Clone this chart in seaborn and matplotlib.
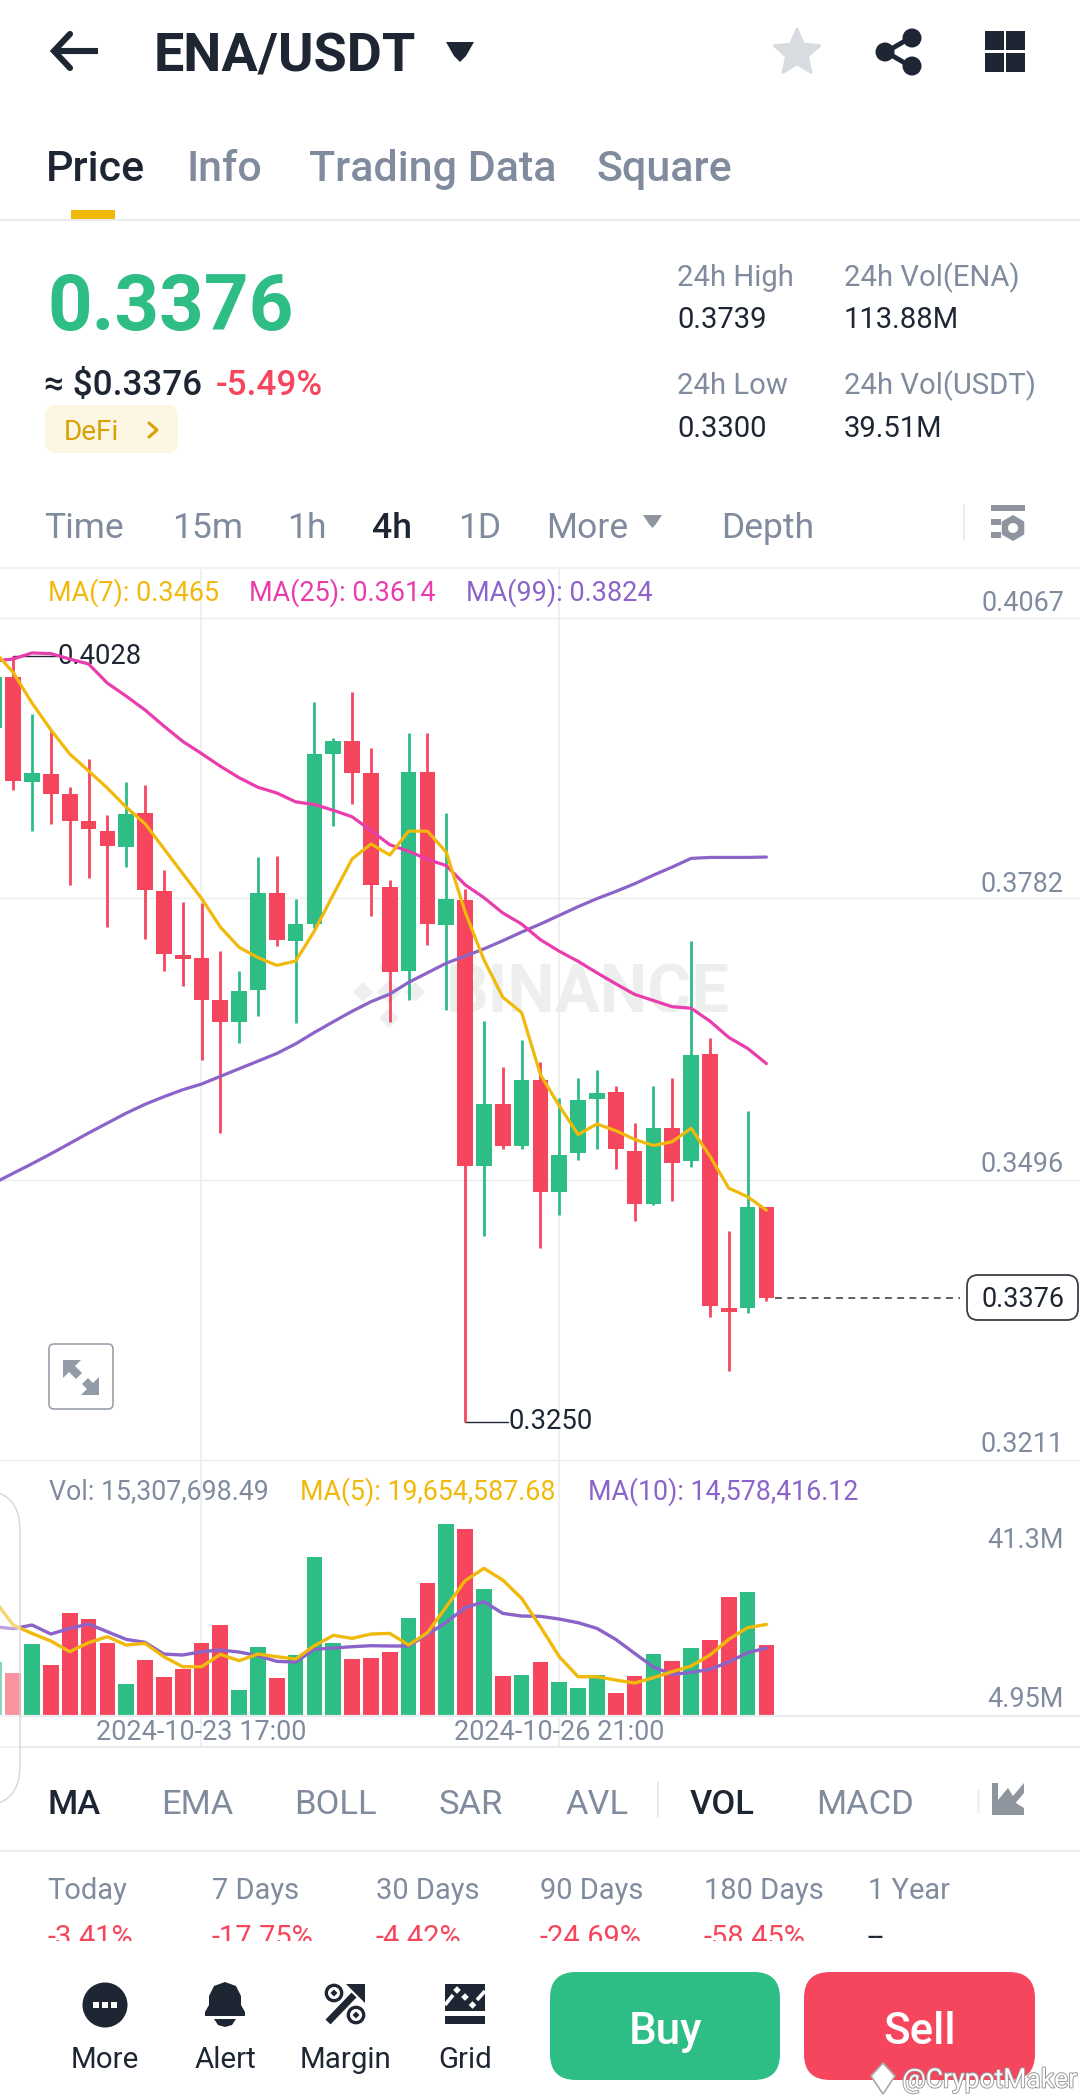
import numpy as np, pandas as pd
import matplotlib
matplotlib.use("Agg")
import matplotlib.pyplot as plt
from matplotlib.patches import FancyBboxPatch, Polygon, Circle, Rectangle, RegularPolygon
import matplotlib.patheffects as pe
import seaborn as sns

sns.set_theme(style="white")
plt.rcParams['font.family'] = ['Roboto', 'DejaVu Sans']

GREEN, RED, YEL, PINK, PURP = '#2EBD85', '#F6465D', '#F0B90B', '#E93DAE', '#8B63C9'
DARK, GRAY, LINE = '#1E2633', '#808C9E', '#EAECEF'

# ---------- data ----------
candle_index = list(range(-1, 41))
opens = [0.39552,0.40066,0.39003,0.39085,0.38879,0.38606,0.38505,0.38342,0.38688,0.37898,0.37248,0.37217,0.36788,0.36566,0.36893,0.37878,0.37384,0.37563,0.39292,0.39416,0.39097,0.37937,0.37083,0.39107,0.37545,0.37803,0.35103,0.35730,0.35307,0.35973,0.34830,0.35229,0.35779,0.35852,0.35253,0.34709,0.35482,0.35146,0.36236,0.33658,0.33653,0.34679]
closes = [0.40066,0.39015,0.39097,0.38883,0.38610,0.38521,0.38353,0.38676,0.37906,0.37256,0.37205,0.36788,0.36566,0.36878,0.37878,0.37400,0.37555,0.39288,0.39416,0.39093,0.37952,0.37073,0.39107,0.37559,0.37812,0.35103,0.35730,0.35307,0.35973,0.34830,0.35215,0.35769,0.35842,0.35268,0.34709,0.35482,0.35132,0.36226,0.33672,0.33619,0.34679,0.3376]
highs = [0.40500,0.40280,0.39696,0.39533,0.38949,0.39233,0.38665,0.39007,0.38968,0.38104,0.37781,0.37769,0.37283,0.37080,0.38237,0.38248,0.37812,0.39813,0.39455,0.39922,0.39346,0.38007,0.39505,0.39496,0.38688,0.37910,0.36577,0.36110,0.36377,0.36158,0.35793,0.35993,0.36076,0.35910,0.35536,0.35915,0.35993,0.37389,0.36402,0.34436,0.35657,0.34679]
lows = [0.39300,0.38918,0.38501,0.38571,0.37952,0.38022,0.37524,0.38139,0.37411,0.37080,0.36932,0.36177,0.35437,0.36352,0.36625,0.37333,0.36555,0.37516,0.38552,0.38782,0.37641,0.36563,0.36791,0.37345,0.36684,0.32500,0.34387,0.35268,0.35268,0.34261,0.34602,0.35161,0.35268,0.35069,0.34543,0.34699,0.34747,0.35093,0.33560,0.33011,0.33604,0.33731]
ma7 = [0.40331,0.40117,0.39805,0.39533,0.39288,0.39116,0.38941,0.38747,0.38579,0.38326,0.38073,0.37820,0.37528,0.37322,0.37217,0.37139,0.37182,0.37489,0.37859,0.38221,0.38373,0.38260,0.38503,0.38503,0.38289,0.37681,0.37195,0.36815,0.36659,0.36027,0.35711,0.35419,0.35526,0.35458,0.35370,0.35307,0.35346,0.35482,0.35200,0.34874,0.34786,0.3465]
ma25 = [0.40234,0.40253,0.40315,0.40308,0.40253,0.40203,0.40008,0.39876,0.39735,0.39572,0.39416,0.39292,0.39163,0.39046,0.38949,0.38891,0.38801,0.38774,0.38715,0.38649,0.38509,0.38365,0.38299,0.38216,0.38153,0.37958,0.37827,0.37671,0.37559,0.37399,0.37282,0.37180,0.37063,0.36951,0.36844,0.36781,0.36718,0.36703,0.36572,0.36406,0.36295,0.3614]
ma99 = [0.34927,0.35025,0.35122,0.35223,0.35328,0.35434,0.35535,0.35636,0.35726,0.35803,0.35874,0.35932,0.36010,0.36088,0.36165,0.36243,0.36341,0.36457,0.36566,0.36672,0.36769,0.36847,0.36966,0.37063,0.37161,0.37233,0.37306,0.37389,0.37477,0.37559,0.37647,0.37735,0.37817,0.37890,0.37968,0.38056,0.38138,0.38226,0.38236,0.38236,0.38236,0.3824]
volume = [11.49,9.12,15.44,10.84,22.04,20.82,15.58,6.75,11.99,8.33,10.12,15.72,19.53,5.46,14.86,8.11,13.14,34.11,15.72,12.21,12.35,13.79,20.97,28.65,41.29,40.14,27.36,8.54,8.69,11.49,7.25,5.96,8.76,4.95,8.54,13.35,11.78,14.58,16.23,25.56,26.64,15.31]
vol_ma5 = [24.91,19.53,17.73,16.08,13.79,15.72,17.02,15.22,15.58,12.71,10.55,10.55,13.21,11.85,13.28,12.71,12.21,15.08,17.30,16.66,17.59,17.73,15.22,17.88,23.48,29.08,31.74,29.22,25.27,19.17,12.71,8.40,8.40,7.68,7.04,8.19,9.48,10.70,13.07,16.44,18.96,19.65]
vol_ma10 = [19.17,18.74,19.53,17.59,18.81,19.75,18.09,16.44,15.80,13.28,13.07,13.79,14.14,13.71,12.92,11.70,11.56,14.29,14.58,14.86,15.08,15.01,15.01,17.52,20.10,23.26,24.56,22.04,21.47,21.40,20.82,20.03,18.81,16.44,13.43,10.48,8.90,9.33,9.98,11.56,13.57,14.58]
vol_bar_colour = ['g','r','g','r','r','r','r','g','r','r','r','r','r','g','g','r','g','g','g','r','r','r','g','r','g','r','g','r','g','r','g','g','g','r','r','g','r','g','r','r','g','r']
price_ticks = [0.4067, 0.3782, 0.3496, 0.3211]
price_tick_labels = ['0.4067', '0.3782', '0.3496', '0.3211']
last_price, high_mark, low_mark = 0.3376, 0.4028, 0.3250
time_ticks = [10, 29]
time_labels = ['2024-10-23 17:00', '2024-10-26 21:00']
period_names = ['Today', '7 Days', '30 Days', '90 Days', '180 Days', '1 Year']
period_values = ['-3.41%', '-17.75%', '-4.42%', '-24.69%', '-58.45%', '--']

W, H = 1080, 2100
fig = plt.figure(figsize=(W/100, H/100), dpi=100, facecolor='white')

def px_axes(left, top, right, bottom, z):
    a = fig.add_axes([left/W, 1-bottom/H, (right-left)/W, (bottom-top)/H], zorder=z)
    a.patch.set_alpha(0)
    return a

bg = px_axes(0, 0, W, H, 0); bg.set_xlim(0, W); bg.set_ylim(H, 0); bg.axis('off')
ov = px_axes(0, 0, W, H, 3); ov.set_xlim(0, W); ov.set_ylim(H, 0); ov.axis('off')

def T(x, yc, s, size, color=DARK, weight='normal', ha='left', z=6, ax=ov, **kw):
    return ax.text(x, yc+0.355*size, s, fontsize=size*0.72, color=color, fontweight=weight,
                   ha=ha, va='baseline', zorder=z, **kw)

def hline(y, x0=0, x1=W, c=LINE, lw=1.0, ax=ov, z=1):
    ax.plot([x0, x1], [y, y], color=c, lw=lw, solid_capstyle='butt', zorder=z)

# ---------- price panel ----------
x_lo = (0-13.2)/18.83; x_hi = (W-13.2)/18.83
axp = px_axes(0, 618, W, 1460, 1)
df = pd.DataFrame(dict(i=candle_index, o=opens, h=highs, l=lows, c=closes, ma7=ma7, ma25=ma25, ma99=ma99,
                       vol=volume, v5=vol_ma5, v10=vol_ma10, vc=vol_bar_colour))
cols = np.where(df.c >= df.o, GREEN, RED)
axp.vlines(df.i, df.l, df.h, colors=cols, lw=2.0, zorder=3)
tops = np.maximum(df.o, df.c); bots = np.minimum(df.o, df.c)
axp.bar(df.i, tops-bots, bottom=bots, width=0.833, color=cols, linewidth=0, zorder=4)
for col, c in (('ma99', PURP), ('ma25', PINK), ('ma7', YEL)):
    sns.lineplot(data=df, x='i', y=col, color=c, lw=2.3, estimator=None, ax=axp, zorder=6, legend=False)
for t in price_ticks:
    axp.axhline(t, color=LINE, lw=1.0, zorder=0, clip_on=False)
axp.plot([0, 2.35], [high_mark]*2, color=DARK, lw=1.0, zorder=2)
axp.plot([24, 26.3], [low_mark]*2, color=DARK, lw=1.0, zorder=2)
axp.text(2.33, high_mark, f'{high_mark:.4f}', fontsize=27.5*0.72, color=DARK, va='center', zorder=2)
axp.text(26.3, low_mark, f'{low_mark:.4f}', fontsize=27.5*0.72, color=DARK, va='center', zorder=2)
axp.plot([40.45, 50.3], [last_price]*2, color='#30343C', lw=1.1, dashes=(4.5, 3.5), zorder=2)
axp.set_xlim(x_lo, x_hi); axp.set_ylim(0.3211, 0.4067)
axp.axis('off')

# ---------- volume panel ----------
axv = px_axes(0, 1461, W, 1715.7, 1)
sns.barplot(data=df, x='i', y='vol', hue='vc', palette={'g': GREEN, 'r': RED}, native_scale=True,
            dodge=False, width=0.833, legend=False, ax=axv, linewidth=0, zorder=3, saturation=1)
sns.lineplot(data=df, x='i', y='v10', color=PURP, lw=2.4, estimator=None, ax=axv, zorder=6, legend=False)
sns.lineplot(data=df, x='i', y='v5', color=YEL, lw=2.4, estimator=None, ax=axv, zorder=7, legend=False)
axv.set_xlim(x_lo, x_hi); axv.set_ylim(0, 254.7*0.2154)
axv.axis('off')

for t, lab in zip(time_ticks, time_labels):
    xp = 12.7 + 18.83*t
    bg.plot([xp, xp], [568, 1747], color=LINE, lw=1.1, zorder=1)
    T(xp, 1730, lab, 27, GRAY, ha='center')

# watermark
for dx, dy, r in ((0, 0, 12), (-26, 0, 10), (26, 0, 10), (0, -26, 10), (0, 26, 10)):
    bg.add_patch(Polygon([(389+dx, 992+dy-r), (389+dx+r, 992+dy), (389+dx, 992+dy+r), (389+dx-r, 992+dy)], fc='#EDEFEF', ec='none', zorder=0))
T(446, 989, 'BINANCE', 67, '#EDEFEF', 'bold', ax=bg, z=0)

hline(220, lw=1.4); hline(568, lw=1.6, c='#F0F1F3'); hline(1716, lw=1.6); hline(1747, lw=1.6, c='#E9EBEF'); hline(1851, lw=1.3)

# ---------- header ----------
ov.plot([54, 98], [51, 51], color=DARK, lw=4.4, solid_capstyle='butt', zorder=6)
ov.plot([70, 54, 70], [34, 51, 68], color=DARK, lw=4.4, solid_joinstyle='miter', zorder=6)
T(154, 52, 'ENA/USDT', 54, DARK, 'bold')
ov.add_patch(Polygon([(446, 42), (474, 42), (466, 56), (460, 62), (454, 56)], fc=DARK, ec='none'))
ang = np.arange(10)*np.pi/5 - np.pi/2; rad = np.where(np.arange(10) % 2 == 0, 24, 11)
ov.add_patch(Polygon(np.c_[797+rad*np.cos(ang), 53+rad*np.sin(ang)], fc='#D8DBE0', ec='#D8DBE0', lw=2, joinstyle='round'))
ov.plot([910, 886, 910], [38, 52, 66], color=DARK, lw=3.5, zorder=6)
for cx, cy in ((912, 38), (885, 52), (912, 66)):
    ov.add_patch(Circle((cx, cy), 9.5, fc=DARK, ec='none', zorder=6))
for xx, yy in ((985, 31), (1006, 31), (985, 53), (1006, 53)):
    ov.add_patch(Rectangle((xx, yy), 19, 19, fc=DARK, ec='none', zorder=6))
for x, s, c, w in ((46, 'Price', DARK, 'medium'), (187, 'Info', GRAY, 'medium'), (309, 'Trading Data', GRAY, 'medium'), (597, 'Square', GRAY, 'medium')):
    T(x, 166, s, 43, c, w)
ov.add_patch(Rectangle((71, 210), 44, 9, fc=YEL, ec='none'))

# ---------- summary ----------
T(47, 302, '0.3376', 78, GREEN, 'bold')
T(44, 383, '≈ $0.3376', 35, DARK, 'medium')
T(216, 383, '-5.49%', 35, RED, 'medium')
ov.add_patch(FancyBboxPatch((45, 405), 133, 48, boxstyle='round,pad=0,rounding_size=11', fc='#FDF6E3', ec='none'))
T(64, 430, 'DeFi', 28, '#D9A106')
ov.plot([149, 157, 149], [423, 430, 437], color='#D9A106', lw=2.2, zorder=6)
for x, y, s, c in ((677, 276, '24h High', GRAY), (677, 318, '0.3739', DARK), (677, 384, '24h Low', GRAY), (677, 427, '0.3300', DARK),
                   (843.5, 276, '24h Vol(ENA)', GRAY), (843.5, 318, '113.88M', DARK), (843.5, 384, '24h Vol(USDT)', GRAY), (843.5, 427, '39.51M', DARK)):
    T(x, y, s, 29.2, c)

# ---------- timeframe row ----------
for x, s, c, w in ((44, 'Time', GRAY, 'normal'), (172, '15m', GRAY, 'normal'), (287, '1h', GRAY, 'normal'), (372, '4h', DARK, 'medium'),
                   (458, '1D', GRAY, 'normal'), (546, 'More', GRAY, 'normal'), (721, 'Depth', GRAY, 'normal')):
    T(x, 525, s, 35.5, c, w)
ov.add_patch(Polygon([(643, 515), (662, 515), (656, 524), (652.5, 528), (649, 524)], fc='#8E959F', ec='none'))
ov.plot([964, 964], [505, 540], color='#E6E8EB', lw=1.2)
ov.add_patch(Rectangle((991, 505), 34, 6, fc='#8E959F', ec='none'))
ov.add_patch(Rectangle((991, 519), 10, 5.5, fc='#8E959F', ec='none'))
ov.add_patch(Rectangle((991, 532), 10, 5.5, fc='#8E959F', ec='none'))
ov.add_patch(RegularPolygon((1013, 528), 6, radius=13, fc='#8E959F', ec='none'))
ov.add_patch(Circle((1013, 528), 5, fc='white', ec='none'))

# ---------- legend rows ----------
T(48, 591, 'MA(7): 0.3465', 27, YEL); T(249, 591, 'MA(25): 0.3614', 27, PINK); T(466, 591, 'MA(99): 0.3824', 27, PURP)
T(49, 1490, 'Vol: 15,307,698.49', 26.8, GRAY); T(300, 1490, 'MA(5): 19,654,587.68', 26.8, YEL); T(588, 1490, 'MA(10): 14,578,416.12', 26.8, PURP)

for s, y in zip(price_tick_labels, (601, 882, 1162, 1442)):
    T(1064, y, s, 27, GRAY, ha='right')
T(1064, 1538, '41.3M', 27, GRAY, ha='right'); T(1064, 1697, '4.95M', 27, GRAY, ha='right')
ov.add_patch(FancyBboxPatch((967, 1275), 111, 45, boxstyle='round,pad=0,rounding_size=11', fc='white', ec='#3A3F47', lw=1.3))
T(1023, 1297.5, f'{last_price:.4f}', 27, DARK, ha='center')

# expand button
ov.add_patch(FancyBboxPatch((49, 1344), 64, 65, boxstyle='round,pad=0,rounding_size=5', fc='white', ec='#9AA1AC', lw=1.2))
GI = '#939BA8'
ov.add_patch(Polygon([(63, 1360), (81, 1360), (75, 1366), (82, 1373), (76, 1379), (69, 1372), (63, 1378)], fc=GI, ec='none'))
ov.add_patch(Polygon([(99, 1395), (81, 1395), (87, 1389), (82, 1384), (88, 1378), (93, 1383), (99, 1377)], fc=GI, ec='none'))

# floating drawer at left
ov.add_patch(FancyBboxPatch((-120, 1490), 140, 316, boxstyle='round,pad=0,rounding_size=40', fc=(1, 1, 1, 0.42), ec='#D6D6D9', lw=1.0, zorder=3))

# ---------- indicator row ----------
for x, s, c, w in ((48, 'MA', DARK, 'medium'), (161, 'EMA', GRAY, 'normal'), (294, 'BOLL', GRAY, 'normal'), (439, 'SAR', GRAY, 'normal'),
                   (566, 'AVL', GRAY, 'normal'), (690, 'VOL', DARK, 'medium'), (816, 'MACD', GRAY, 'normal')):
    T(x, 1802, s, 34.5, c, w)
ov.plot([658, 658], [1782, 1817], color='#E6E8EB', lw=1.2)
ov.plot([978, 978], [1790, 1812], color='#F0F1F3', lw=2)
ov.add_patch(Polygon([(992, 1783), (998, 1783), (998, 1800), (1008, 1788), (1013, 1796), (1024, 1783), (1024, 1793), (1013, 1806), (1008, 1798), (1024, 1808), (1024, 1815), (992, 1815)], fc='#8E959F', ec='none'))

# ---------- periods ----------
for x, n, v in zip((47, 212, 376, 540, 704, 868), period_names, period_values):
    T(x, 1889, n, 29, GRAY)
    T(x, 1936, v, 29, RED if v != '--' else DARK)
ov.add_patch(Rectangle((0, 1941), W, 159, fc='white', ec='none', zorder=7))

# ---------- bottom bar ----------
Z = 8
ov.add_patch(Circle((105, 2005), 22.5, fc=DARK, ec='none', zorder=Z))
for dx in (-9, 0, 9):
    ov.add_patch(Rectangle((105+dx-3, 2002), 6, 6, fc='white', ec='none', zorder=Z))
ov.add_patch(Polygon([(205, 2012), (209, 2005), (209, 1996), (214, 1986), (225, 1982), (236, 1986), (241, 1996), (241, 2005), (245, 2012), (245, 2016), (205, 2016)], fc=DARK, ec='none', zorder=Z))
ov.add_patch(Polygon([(214, 2019), (236, 2019), (232, 2025), (225, 2027), (218, 2025)], fc=DARK, ec='none', zorder=Z))
# margin icon
ov.plot([328, 354], [2022, 1995], color=DARK, lw=5, zorder=Z, solid_capstyle='butt')
ov.add_patch(Polygon([(346, 1984), (365, 1984), (365, 2003)], fc=DARK, ec='none', zorder=Z))
for cx, cy in ((334, 1993), (356, 2015)):
    ov.add_patch(Circle((cx, cy), 7, fc='white', ec=DARK, lw=3.4, zorder=Z))
    ov.add_patch(Polygon([(cx, cy-3.5), (cx+3.5, cy), (cx, cy+3.5), (cx-3.5, cy)], fc=DARK, ec='none', zorder=Z+1))
    ov.add_patch(Circle((cx, cy), 6, fc='white', ec='none', zorder=Z))
# grid icon
ov.add_patch(Rectangle((445, 1984), 40, 27, fc=DARK, ec='none', zorder=Z))
ov.add_patch(Rectangle((445, 2016), 40, 8, fc=DARK, ec='none', zorder=Z))
for cx, cy in ((457, 1990), (465, 1997), (472.5, 2005)):
    ov.add_patch(Polygon([(cx, cy-3.8), (cx+3.8, cy), (cx, cy+3.8), (cx-3.8, cy)], fc='white', ec='none', zorder=Z+1))
ov.plot([445, 453], [2005, 1995], color='white', lw=2.6, zorder=Z+1, solid_capstyle='butt')
ov.plot([477, 485], [2000, 1991], color='white', lw=2.6, zorder=Z+1, solid_capstyle='butt')
for x, s in ((105, 'More'), (225, 'Alert'), (345, 'Margin'), (465, 'Grid')):
    T(x, 2058, s, 29.5, DARK, ha='center', z=Z)
ov.add_patch(FancyBboxPatch((550, 1972), 230, 108, boxstyle='round,pad=0,rounding_size=26', fc=GREEN, ec='none', zorder=Z))
ov.add_patch(FancyBboxPatch((804, 1972), 231, 108, boxstyle='round,pad=0,rounding_size=26', fc=RED, ec='none', zorder=Z))
T(665, 2028, 'Buy', 44, 'white', 'medium', ha='center', z=Z+1)
T(920, 2028, 'Sell', 44, 'white', 'medium', ha='center', z=Z+1)
wm = T(902, 2078, '@CrypotMaker', 26.5, 'white', z=Z+2)
wm.set_path_effects([pe.withStroke(linewidth=1.4, foreground='#9A9A9A')])
ov.add_patch(Polygon([(883, 2063), (895, 2076), (883, 2094), (871, 2076)], fc='white', ec='#A8A8A8', lw=1.2, zorder=Z+2))

fig.savefig('out.png', dpi=100, facecolor='white')
